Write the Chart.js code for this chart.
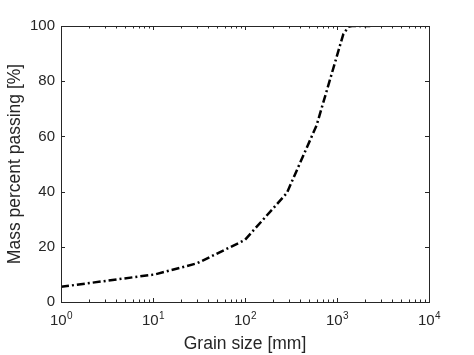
<!DOCTYPE html>
<html>
<head>
<meta charset="utf-8">
<script src="https://cdn.jsdelivr.net/npm/chart.js@4/dist/chart.umd.min.js"></script>
<style>
html,body{margin:0;padding:0;background:#fff;}
#wrap{width:474px;height:355px;position:relative;}
</style>
</head>
<body>
<div id="wrap"><canvas id="c" width="474" height="355"></canvas></div>
<script>
// Data
const grainSize = [1, 10.5, 30, 100, 285, 600, 1170, 1330, 1450, 2300];
const massPassing = [5.5, 10, 14, 22.5, 39.5, 64, 97, 99.7, 100, 100];
const xMajorTicks = [1, 10, 100, 1000, 10000];
const xTickBase = ['10', '10', '10', '10', '10'];
const xTickExponents = ['0', '1', '2', '3', '4'];
const yTicks = [0, 20, 40, 60, 80, 100];

const TXT = '#262626';
const FONT = '"Liberation Sans", Arial, sans-serif';

const frame = {
  id: 'frame',
  afterDraw(chart) {
    const ctx = chart.ctx;
    const a = chart.chartArea;
    const xs = chart.scales.x, ys = chart.scales.y;
    ctx.save();
    ctx.strokeStyle = TXT;
    ctx.lineWidth = 1;
    ctx.strokeRect(Math.round(a.left) + 0.5, Math.round(a.top) + 0.5,
                   Math.round(a.right - a.left), Math.round(a.bottom - a.top));
    ctx.beginPath();
    yTicks.forEach(v => {
      const y = Math.round(ys.getPixelForValue(v)) + 0.5;
      ctx.moveTo(a.left, y); ctx.lineTo(a.left + 4, y);
      ctx.moveTo(a.right, y); ctx.lineTo(a.right - 4, y);
    });
    for (let d = 0; d < xMajorTicks.length; d++) {
      const base = xMajorTicks[d];
      const xm = Math.round(xs.getPixelForValue(base)) + 0.5;
      ctx.moveTo(xm, a.bottom); ctx.lineTo(xm, a.bottom - 4);
      ctx.moveTo(xm, a.top); ctx.lineTo(xm, a.top + 4);
      if (d < xMajorTicks.length - 1) {
        for (let k = 2; k <= 9; k++) {
          const x = Math.round(xs.getPixelForValue(base * k)) + 0.5;
          ctx.moveTo(x, a.bottom); ctx.lineTo(x, a.bottom - 2.5);
          ctx.moveTo(x, a.top); ctx.lineTo(x, a.top + 2.5);
        }
      }
    }
    ctx.stroke();
    ctx.fillStyle = TXT;
    ctx.textBaseline = 'alphabetic';
    xMajorTicks.forEach((v, i) => {
      const x = xs.getPixelForValue(v);
      ctx.font = '15px ' + FONT;
      const wb = ctx.measureText(xTickBase[i]).width;
      ctx.font = '10px ' + FONT;
      const we = ctx.measureText(xTickExponents[i]).width;
      const start = x - (wb + we) / 2;
      ctx.font = '15px ' + FONT;
      ctx.textAlign = 'left';
      ctx.fillText(xTickBase[i], start, 325);
      ctx.font = '10px ' + FONT;
      ctx.fillText(xTickExponents[i], start + wb + 0.5, 319);
    });
    ctx.restore();
  }
};

new Chart(document.getElementById('c'), {
  type: 'line',
  data: {
    datasets: [{
      data: grainSize.map((g, i) => ({x: g, y: massPassing[i]})),
      borderColor: '#000',
      borderWidth: 2.5,
      borderDash: [8, 3, 2, 3],
      pointRadius: 0,
      fill: false,
      tension: 0
    }]
  },
  options: {
    responsive: false,
    animation: false,
    layout: {padding: {left: 0, right: 45, top: 26, bottom: 0}},
    plugins: {legend: {display: false}, tooltip: {enabled: false}},
    scales: {
      x: {
        type: 'logarithmic',
        min: 1, max: 10000,
        grid: {display: false, drawTicks: false},
        border: {display: false},
        ticks: {display: false},
        title: {display: true, text: 'Grain size [mm]', color: TXT,
                font: {family: FONT, size: 17.5}, padding: {top: 0, bottom: 0}},
        afterFit(s) { s.height = 53; }
      },
      y: {
        min: 0, max: 100,
        afterBuildTicks(s) { s.ticks = yTicks.map(v => ({value: v})); },
        grid: {display: false, drawTicks: false},
        border: {display: false},
        ticks: {color: TXT, font: {family: FONT, size: 15}, padding: 6},
        title: {display: true, text: 'Mass percent passing [%]', color: TXT,
                font: {family: FONT, size: 17.5}, padding: {top: 5, bottom: 0}},
        afterFit(s) { s.width = 61; }
      }
    }
  },
  plugins: [frame]
});
</script>
</body>
</html>
